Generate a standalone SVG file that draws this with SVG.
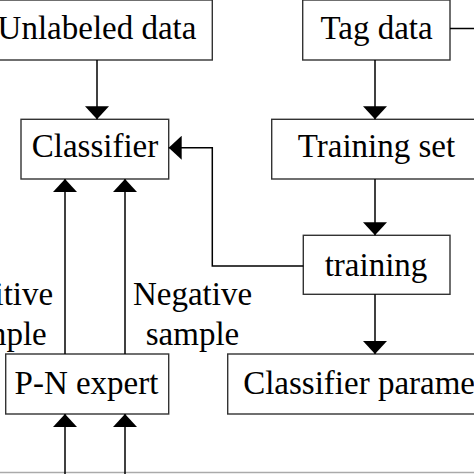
<svg xmlns="http://www.w3.org/2000/svg" width="474" height="474" viewBox="0 0 474 474">
<defs>
<marker id="ah" markerUnits="userSpaceOnUse" markerWidth="14" markerHeight="24" refX="13" refY="12" orient="auto">
<path d="M0,0 L13,12 L0,24 Z" fill="#000"/>
</marker>
<style>
.box{fill:#fff;stroke:#333;stroke-width:1.4}
.t{font-family:"Liberation Serif","Times New Roman",serif;font-size:33px;fill:#000;text-anchor:middle}
.c{fill:none;stroke:#000;stroke-width:1.5}
</style>
</defs>
<rect width="474" height="474" fill="#fff"/>
<line x1="0" y1="472.5" x2="474" y2="472.5" stroke="#aaa" stroke-width="1.6"/>
<g id="unlabeled"><rect class="box" x="-18" y="0" width="230.3" height="60"/><text class="t" x="97" y="39">Unlabeled data</text></g>
<g id="tagdata"><rect class="box" x="302.7" y="0" width="147.3" height="60"/><text class="t" x="376.5" y="39">Tag data</text></g>
<g id="classifier"><rect class="box" x="21" y="119.3" width="147.7" height="59.7"/><text class="t" x="95" y="157.3">Classifier</text></g>
<g id="trainingset"><rect class="box" x="271.7" y="119.3" width="210" height="59.7"/><text class="t" x="376.5" y="157.3">Training set</text></g>
<g id="training"><rect class="box" x="303.3" y="235.3" width="146.7" height="59"/><text class="t" x="376" y="275.7">training</text></g>
<g id="pnexpert"><rect class="box" x="5.7" y="354" width="163" height="60"/><text class="t" x="86.5" y="394">P-N expert</text></g>
<g id="classifierparam"><rect class="box" x="227.7" y="354" width="300" height="60"/><text class="t" x="376.5" y="394">Classifier parameter</text></g>
<g id="labels">
<text class="t" x="0" y="305">Positive</text>
<text class="t" x="0" y="345">sample</text>
<text class="t" x="192.5" y="305">Negative</text>
<text class="t" x="192.5" y="345">sample</text>
</g>
<g id="connectors">
<line class="c" x1="97" y1="60" x2="97" y2="119.3" marker-end="url(#ah)"/>
<line class="c" x1="375" y1="60" x2="375" y2="119.3" marker-end="url(#ah)"/>
<line class="c" x1="375" y1="179" x2="375" y2="235.3" marker-end="url(#ah)"/>
<line class="c" x1="375" y1="294.3" x2="375" y2="354" marker-end="url(#ah)"/>
<line class="c" x1="450" y1="28.5" x2="474" y2="28.5"/>
<polyline class="c" points="303.3,266 212.3,266 212.3,147.7 168.7,147.7" marker-end="url(#ah)"/>
<line class="c" x1="65" y1="354" x2="65" y2="179" marker-end="url(#ah)"/>
<line class="c" x1="125" y1="354" x2="125" y2="179" marker-end="url(#ah)"/>
<line class="c" x1="65" y1="474" x2="65" y2="414" marker-end="url(#ah)"/>
<line class="c" x1="125" y1="474" x2="125" y2="414" marker-end="url(#ah)"/>
</g>
</svg>
